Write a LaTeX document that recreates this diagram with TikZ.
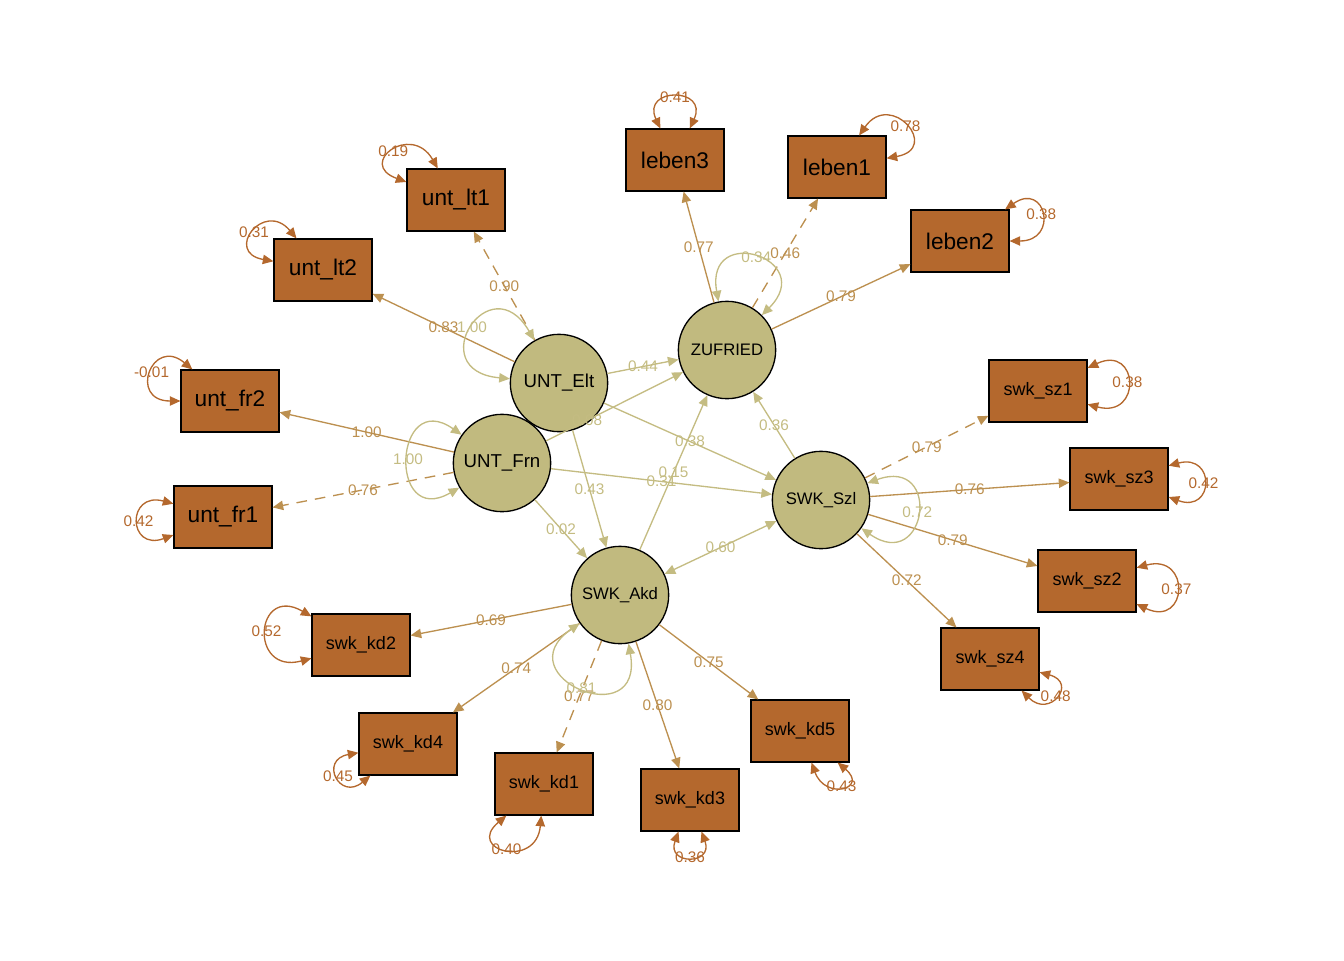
\documentclass[tikz,border=0pt]{standalone}
\usepackage{fontspec}
\setmainfont{Liberation Sans}
\usetikzlibrary{arrows.meta}
\definecolor{boxbrown}{HTML}{B4682D}
\definecolor{latkhaki}{HTML}{C1BA7F}
\definecolor{loadcol}{HTML}{BC9050}
\definecolor{structcol}{HTML}{C4BC82}
\begin{document}
\begin{tikzpicture}[x=0.75pt,y=-0.75pt,
        lat-node/.style={circle,draw=black,line width=1pt,fill=latkhaki,minimum size=73pt,inner sep=0pt,font=\fontsize{14}{14}\selectfont},
        man-node/.style={rectangle,draw=black,line width=0.8pt,fill=boxbrown,minimum width=73.5pt,minimum height=46.5pt,inner sep=0pt,font=\fontsize{13.5}{13.5}\selectfont},
        big/.style={font=\fontsize{17}{17}\selectfont},
        tip/.style={-{Triangle[length=8pt,width=7pt]}},
        fixed-dash/.style={dash pattern=on 8pt off 6pt},
        load/.style={tip,draw=loadcol,line width=1pt},
        struct/.style={tip,draw=structcol,line width=1pt},
        resid/.style={{Triangle[length=8pt,width=7pt]}-{Triangle[length=8pt,width=7pt]},draw=boxbrown,line width=1pt},
        lres/.style={{Triangle[length=8pt,width=7pt]}-{Triangle[length=8pt,width=7pt]},draw=structcol,line width=1pt},
        lbl/.style={text=loadcol,font=\fontsize{11.5}{11.5}\selectfont,inner sep=1pt},
        slbl/.style={text=structcol,font=\fontsize{11.5}{11.5}\selectfont,inner sep=1pt},
        rlbl/.style={text=boxbrown,font=\fontsize{11.5}{11.5}\selectfont,inner sep=1pt}
    ]
    \useasboundingbox (0,0) rectangle (1344,960);

    % latent variables
    \node[lat-node] (elt) at (559,383) {UNT\_Elt};
    \node[lat-node] (frn) at (502,463) {UNT\_Frn};
    \node[lat-node,font=\fontsize{12.5}{12.5}\selectfont] (zuf) at (727,350) {ZUFRIED};
    \node[lat-node,font=\fontsize{12.5}{12.5}\selectfont] (szl) at (821,500) {SWK\_Szl};
    \node[lat-node,font=\fontsize{12.5}{12.5}\selectfont] (akd) at (620,595) {SWK\_Akd};

    % indicators
    \node[man-node,big] (lt1) at (456,200) {unt\_lt1};
    \node[man-node,big] (lt2) at (323,270) {unt\_lt2};
    \node[man-node,big] (fr2) at (230,401) {unt\_fr2};
    \node[man-node,big] (fr1) at (223,517) {unt\_fr1};
    \node[man-node,big] (lb3) at (675,160) {leben3};
    \node[man-node,big] (lb1) at (837,167) {leben1};
    \node[man-node,big] (lb2) at (960,241) {leben2};
    \node[man-node] (sz1) at (1038,391) {swk\_sz1};
    \node[man-node] (sz3) at (1119,479) {swk\_sz3};
    \node[man-node] (sz2) at (1087,581) {swk\_sz2};
    \node[man-node] (sz4) at (990,659) {swk\_sz4};
    \node[man-node] (kd5) at (800,731) {swk\_kd5};
    \node[man-node] (kd3) at (690,800) {swk\_kd3};
    \node[man-node] (kd1) at (544,784) {swk\_kd1};
    \node[man-node] (kd4) at (408,744) {swk\_kd4};
    \node[man-node] (kd2) at (361,645) {swk\_kd2};

    % loadings
    \draw[load,fixed-dash] (elt) -- (lt1) node[lbl,midway] {0.90};
    \draw[load] (elt) -- (lt2) node[lbl,midway] {0.83};
    \draw[load] (frn) -- (fr2) node[lbl,midway] {1.00};
    \draw[load,fixed-dash] (frn) -- (fr1) node[lbl,midway] {0.76};
    \draw[load] (zuf) -- (lb3) node[lbl,midway] {0.77};
    \draw[load,fixed-dash] (zuf) -- (lb1) node[lbl,midway] {0.46};
    \draw[load] (zuf) -- (lb2) node[lbl,midway] {0.79};
    \draw[load,fixed-dash] (szl) -- (sz1) node[lbl,midway] {0.79};
    \draw[load] (szl) -- (sz3) node[lbl,midway] {0.76};
    \draw[load] (szl) -- (sz2) node[lbl,midway] {0.79};
    \draw[load] (szl) -- (sz4) node[lbl,midway] {0.72};
    \draw[load] (akd) -- (kd2) node[lbl,midway] {0.69};
    \draw[load] (akd) -- (kd4) node[lbl,midway] {0.74};
    \draw[load,fixed-dash] (akd) -- (kd1) node[lbl,midway] {0.77};
    \draw[load] (akd) -- (kd3) node[lbl,midway] {0.80};
    \draw[load] (akd) -- (kd5) node[lbl,midway] {0.75};

    % structural paths
    \draw[struct] (elt) -- (zuf) node[slbl,midway] {0.44};
    \draw[struct] (frn) -- (zuf) node[slbl,pos=0.3] {0.08};
    \draw[struct] (elt) -- (szl) node[slbl,midway] {0.38};
    \draw[struct] (frn) -- (szl) node[slbl,midway] {0.31};
    \draw[struct] (akd) -- (zuf) node[slbl,midway] {0.15};
    \draw[struct] (elt) -- (akd) node[slbl,midway] {0.43};
    \draw[struct] (frn) -- (akd) node[slbl,midway] {0.02};
    \draw[struct] (szl) -- (zuf) node[slbl,midway] {0.36};
    \draw[lres] (akd) -- (szl) node[slbl,midway] {0.60};

    % latent variances
    \draw[lres] (elt.120) to[out=120,in=175,looseness=5] node[slbl,pos=0.5] {1.00} (elt.175);
    \draw[lres] (frn.145) to[out=145,in=210,looseness=4] node[slbl,pos=0.5] {1.00} (frn.210);
    \draw[lres] (zuf.100) to[out=100,in=45,looseness=4.5] node[slbl,pos=0.5] {0.34} (zuf.45);
    \draw[lres] (szl.20) to[out=20,in=-35,looseness=4.5] node[slbl,pos=0.5] {0.72} (szl.-35);
    \draw[lres] (akd.215) to[out=215,in=-80,looseness=4.5] node[slbl,pos=0.5] {0.81} (akd.-80);

    % residual variances
    \foreach \n/\a/\b/\v in {lt1/120/160/0.19, lt2/130/170/0.31, fr2/140/180/-0.01,
        fr1/165/200/0.42, lb3/115/65/0.41, lb1/55/10/0.78, lb2/35/0/0.38,
        sz1/25/-15/0.38, sz3/15/-20/0.42, sz2/15/-25/0.37, sz4/-15/-45/0.48,
        kd5/-40/-70/0.43, kd3/-70/-110/0.36, kd1/-95/-140/0.40,
        kd4/-140/-170/0.45, kd2/-165/-210/0.52}
        \draw[resid] (\n.\a) to[out=\a,in=\b,looseness=4] node[rlbl,pos=0.5] {\v} (\n.\b);
\end{tikzpicture}
\end{document}
